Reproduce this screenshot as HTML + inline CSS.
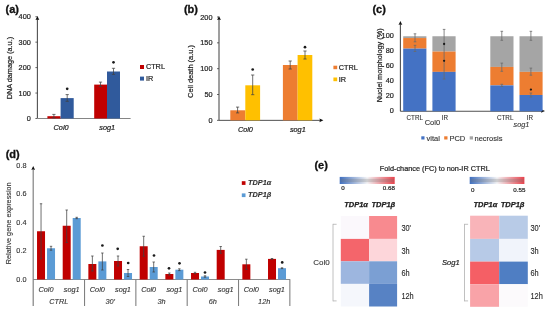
<!DOCTYPE html>
<html><head><meta charset="utf-8"><style>
html,body{margin:0;padding:0;background:#fff;}
svg{display:block;font-family:"Liberation Sans", sans-serif;filter:blur(0.35px);}
</style></head><body>
<svg width="550" height="312" viewBox="0 0 550 312">
<rect width="550" height="312" fill="#fff"/>
<text x="5.5" y="12.6" font-size="11" text-anchor="start" font-weight="bold" font-style="normal" fill="#111" stroke="#111" stroke-width="0.3">(a)</text>
<line x1="37.4" y1="18.8" x2="37.4" y2="118.5" stroke="#505050" stroke-width="1.1"/>
<path d="M35.5 20.0 L37.4 16.0 L39.3 20.0 L37.4 19.4 Z" fill="#111"/>
<line x1="35.4" y1="118.5" x2="37.4" y2="118.5" stroke="#404040" stroke-width="0.8"/>
<text x="30.8" y="121.1" font-size="7.3" text-anchor="end" font-weight="normal" font-style="normal" fill="#262626" stroke="#262626" stroke-width="0.22">0</text>
<line x1="35.4" y1="93.05" x2="37.4" y2="93.05" stroke="#404040" stroke-width="0.8"/>
<text x="30.8" y="95.64999999999999" font-size="7.3" text-anchor="end" font-weight="normal" font-style="normal" fill="#262626" stroke="#262626" stroke-width="0.22">100</text>
<line x1="35.4" y1="67.6" x2="37.4" y2="67.6" stroke="#404040" stroke-width="0.8"/>
<text x="30.8" y="70.19999999999999" font-size="7.3" text-anchor="end" font-weight="normal" font-style="normal" fill="#262626" stroke="#262626" stroke-width="0.22">200</text>
<line x1="35.4" y1="42.150000000000006" x2="37.4" y2="42.150000000000006" stroke="#404040" stroke-width="0.8"/>
<text x="30.8" y="44.75000000000001" font-size="7.3" text-anchor="end" font-weight="normal" font-style="normal" fill="#262626" stroke="#262626" stroke-width="0.22">300</text>
<line x1="35.4" y1="16.700000000000003" x2="37.4" y2="16.700000000000003" stroke="#404040" stroke-width="0.8"/>
<text x="30.8" y="19.300000000000004" font-size="7.3" text-anchor="end" font-weight="normal" font-style="normal" fill="#262626" stroke="#262626" stroke-width="0.22">400</text>
<line x1="37.4" y1="118.5" x2="130.6" y2="118.5" stroke="#858585" stroke-width="1.0"/>
<rect x="47.4" y="116.2" width="13.2" height="2.3" fill="#c00000"/>
<rect x="60.6" y="98.1" width="13.1" height="20.4" fill="#305a9c"/>
<rect x="94.2" y="84.6" width="12.8" height="33.9" fill="#c00000"/>
<rect x="107" y="71.5" width="13" height="47.0" fill="#305a9c"/>
<line x1="53.9" y1="114.4" x2="53.9" y2="117.8" stroke="#404040" stroke-width="0.75"/>
<line x1="52.3" y1="114.4" x2="55.5" y2="114.4" stroke="#404040" stroke-width="0.75"/>
<line x1="52.3" y1="117.8" x2="55.5" y2="117.8" stroke="#404040" stroke-width="0.75"/>
<line x1="67.2" y1="94.6" x2="67.2" y2="101.3" stroke="#404040" stroke-width="0.75"/>
<line x1="65.60000000000001" y1="94.6" x2="68.8" y2="94.6" stroke="#404040" stroke-width="0.75"/>
<line x1="65.60000000000001" y1="101.3" x2="68.8" y2="101.3" stroke="#404040" stroke-width="0.75"/>
<line x1="100.5" y1="82.1" x2="100.5" y2="86.5" stroke="#404040" stroke-width="0.75"/>
<line x1="98.9" y1="82.1" x2="102.1" y2="82.1" stroke="#404040" stroke-width="0.75"/>
<line x1="98.9" y1="86.5" x2="102.1" y2="86.5" stroke="#404040" stroke-width="0.75"/>
<line x1="113.5" y1="68.3" x2="113.5" y2="74.4" stroke="#404040" stroke-width="0.75"/>
<line x1="111.9" y1="68.3" x2="115.1" y2="68.3" stroke="#404040" stroke-width="0.75"/>
<line x1="111.9" y1="74.4" x2="115.1" y2="74.4" stroke="#404040" stroke-width="0.75"/>
<circle cx="67.2" cy="88.8" r="1.35" fill="#1a1a1a"/>
<circle cx="113.5" cy="62.3" r="1.35" fill="#1a1a1a"/>
<text x="61.1" y="130.2" font-size="7.3" text-anchor="middle" font-weight="normal" font-style="italic" fill="#262626" stroke="#262626" stroke-width="0.22">Col0</text>
<text x="107.2" y="130.2" font-size="7.3" text-anchor="middle" font-weight="normal" font-style="italic" fill="#262626" stroke="#262626" stroke-width="0.22">sog1</text>
<text x="12.2" y="68.1" font-size="7.3" text-anchor="middle" font-weight="normal" font-style="normal" fill="#262626" stroke="#262626" stroke-width="0.22" transform="rotate(-90 12.2 68.1)">DNA damage (a.u.)</text>
<rect x="140" y="65" width="4" height="4" fill="#c00000"/>
<text x="145.9" y="69.4" font-size="7.3" text-anchor="start" font-weight="normal" font-style="normal" fill="#262626" stroke="#262626" stroke-width="0.22">CTRL</text>
<rect x="140" y="76.6" width="4" height="4.0" fill="#305a9c"/>
<text x="145.9" y="81.0" font-size="7.3" text-anchor="start" font-weight="normal" font-style="normal" fill="#262626" stroke="#262626" stroke-width="0.22">IR</text>
<text x="183.9" y="12.7" font-size="11" text-anchor="start" font-weight="bold" font-style="normal" fill="#111" stroke="#111" stroke-width="0.3">(b)</text>
<line x1="219.0" y1="19" x2="219.0" y2="120.35" stroke="#505050" stroke-width="1.1"/>
<path d="M217.1 20.0 L219.0 16.0 L220.9 20.0 L219.0 19.4 Z" fill="#111"/>
<line x1="217.0" y1="120.35" x2="219.0" y2="120.35" stroke="#404040" stroke-width="0.8"/>
<text x="212.5" y="122.94999999999999" font-size="7.3" text-anchor="end" font-weight="normal" font-style="normal" fill="#262626" stroke="#262626" stroke-width="0.22">0</text>
<line x1="217.0" y1="94.5125" x2="219.0" y2="94.5125" stroke="#404040" stroke-width="0.8"/>
<text x="212.5" y="97.1125" font-size="7.3" text-anchor="end" font-weight="normal" font-style="normal" fill="#262626" stroke="#262626" stroke-width="0.22">50</text>
<line x1="217.0" y1="68.67500000000001" x2="219.0" y2="68.67500000000001" stroke="#404040" stroke-width="0.8"/>
<text x="212.5" y="71.275" font-size="7.3" text-anchor="end" font-weight="normal" font-style="normal" fill="#262626" stroke="#262626" stroke-width="0.22">100</text>
<line x1="217.0" y1="42.837500000000006" x2="219.0" y2="42.837500000000006" stroke="#404040" stroke-width="0.8"/>
<text x="212.5" y="45.43750000000001" font-size="7.3" text-anchor="end" font-weight="normal" font-style="normal" fill="#262626" stroke="#262626" stroke-width="0.22">150</text>
<line x1="217.0" y1="17.000000000000014" x2="219.0" y2="17.000000000000014" stroke="#404040" stroke-width="0.8"/>
<text x="212.5" y="19.600000000000016" font-size="7.3" text-anchor="end" font-weight="normal" font-style="normal" fill="#262626" stroke="#262626" stroke-width="0.22">200</text>
<line x1="219.0" y1="120.35" x2="321" y2="120.35" stroke="#505050" stroke-width="1.0"/>
<path d="M319.4 118.55 L323.4 120.35 L319.4 122.14999999999999 L320.0 120.35 Z" fill="#111"/>
<rect x="230.3" y="110.3" width="15.0" height="10.05" fill="#ed7d31"/>
<rect x="245.3" y="85.3" width="14.8" height="35.05" fill="#ffc000"/>
<rect x="282.9" y="65" width="14.7" height="55.35" fill="#ed7d31"/>
<rect x="297.6" y="55" width="14.7" height="65.35" fill="#ffc000"/>
<line x1="237.6" y1="107.1" x2="237.6" y2="112.9" stroke="#404040" stroke-width="0.75"/>
<line x1="236.0" y1="107.1" x2="239.2" y2="107.1" stroke="#404040" stroke-width="0.75"/>
<line x1="236.0" y1="112.9" x2="239.2" y2="112.9" stroke="#404040" stroke-width="0.75"/>
<line x1="252.7" y1="75" x2="252.7" y2="94.7" stroke="#404040" stroke-width="0.75"/>
<line x1="251.1" y1="75" x2="254.29999999999998" y2="75" stroke="#404040" stroke-width="0.75"/>
<line x1="251.1" y1="94.7" x2="254.29999999999998" y2="94.7" stroke="#404040" stroke-width="0.75"/>
<line x1="290.2" y1="61" x2="290.2" y2="69" stroke="#404040" stroke-width="0.75"/>
<line x1="288.59999999999997" y1="61" x2="291.8" y2="61" stroke="#404040" stroke-width="0.75"/>
<line x1="288.59999999999997" y1="69" x2="291.8" y2="69" stroke="#404040" stroke-width="0.75"/>
<line x1="305" y1="51" x2="305" y2="59" stroke="#404040" stroke-width="0.75"/>
<line x1="303.4" y1="51" x2="306.6" y2="51" stroke="#404040" stroke-width="0.75"/>
<line x1="303.4" y1="59" x2="306.6" y2="59" stroke="#404040" stroke-width="0.75"/>
<circle cx="252.7" cy="69.5" r="1.35" fill="#1a1a1a"/>
<circle cx="305" cy="47.2" r="1.35" fill="#1a1a1a"/>
<text x="245.4" y="132.0" font-size="7.3" text-anchor="middle" font-weight="normal" font-style="italic" fill="#262626" stroke="#262626" stroke-width="0.22">Col0</text>
<text x="297.8" y="132.0" font-size="7.3" text-anchor="middle" font-weight="normal" font-style="italic" fill="#262626" stroke="#262626" stroke-width="0.22">sog1</text>
<text x="192.6" y="71.5" font-size="7.45" text-anchor="middle" font-weight="normal" font-style="normal" fill="#262626" stroke="#262626" stroke-width="0.22" transform="rotate(-90 192.6 71.5)">Cell death (a.u.)</text>
<rect x="333.4" y="65.7" width="3.8" height="3.5" fill="#ed7d31"/>
<text x="338.8" y="69.6" font-size="7.3" text-anchor="start" font-weight="normal" font-style="normal" fill="#262626" stroke="#262626" stroke-width="0.22">CTRL</text>
<rect x="333.4" y="77.5" width="3.8" height="3.7" fill="#ffc000"/>
<text x="338.8" y="82.1" font-size="7.3" text-anchor="start" font-weight="normal" font-style="normal" fill="#262626" stroke="#262626" stroke-width="0.22">IR</text>
<text x="372.4" y="12.5" font-size="11" text-anchor="start" font-weight="bold" font-style="normal" fill="#111" stroke="#111" stroke-width="0.3">(c)</text>
<line x1="400.4" y1="24" x2="400.4" y2="111.25" stroke="#505050" stroke-width="1.1"/>
<path d="M398.5 24.9 L400.4 20.9 L402.29999999999995 24.9 L400.4 24.299999999999997 Z" fill="#111"/>
<text x="393.8" y="113.35" font-size="7.3" text-anchor="end" font-weight="normal" font-style="normal" fill="#262626" stroke="#262626" stroke-width="0.22">0</text>
<text x="393.8" y="98.35" font-size="7.3" text-anchor="end" font-weight="normal" font-style="normal" fill="#262626" stroke="#262626" stroke-width="0.22">20</text>
<text x="393.8" y="83.35" font-size="7.3" text-anchor="end" font-weight="normal" font-style="normal" fill="#262626" stroke="#262626" stroke-width="0.22">40</text>
<text x="393.8" y="68.35" font-size="7.3" text-anchor="end" font-weight="normal" font-style="normal" fill="#262626" stroke="#262626" stroke-width="0.22">60</text>
<text x="393.8" y="53.35" font-size="7.3" text-anchor="end" font-weight="normal" font-style="normal" fill="#262626" stroke="#262626" stroke-width="0.22">80</text>
<text x="393.8" y="38.35" font-size="7.3" text-anchor="end" font-weight="normal" font-style="normal" fill="#262626" stroke="#262626" stroke-width="0.22">100</text>
<line x1="400.4" y1="111.25" x2="543" y2="111.25" stroke="#505050" stroke-width="1.0"/>
<path d="M541.0 109.15 L545 110.95 L541.0 112.75 L541.6 110.95 Z" fill="#111"/>
<rect x="403.2" y="36.25" width="23.2" height="1.8" fill="#a5a5a5"/>
<rect x="403.2" y="38.05000000000001" width="23.2" height="10.57" fill="#ed7d31"/>
<rect x="403.2" y="48.625" width="23.2" height="62.62" fill="#4472c4"/>
<rect x="432.4" y="36.25" width="23.2" height="15.3" fill="#a5a5a5"/>
<rect x="432.4" y="51.550000000000004" width="23.2" height="20.32" fill="#ed7d31"/>
<rect x="432.4" y="71.875" width="23.2" height="39.38" fill="#4472c4"/>
<rect x="490.3" y="36.25" width="23.2" height="30.67" fill="#a5a5a5"/>
<rect x="490.3" y="66.925" width="23.2" height="18.45" fill="#ed7d31"/>
<rect x="490.3" y="85.375" width="23.2" height="25.88" fill="#4472c4"/>
<rect x="519.5" y="36.25" width="23.1" height="35.62" fill="#a5a5a5"/>
<rect x="519.5" y="71.875" width="23.1" height="23.1" fill="#ed7d31"/>
<rect x="519.5" y="94.975" width="23.1" height="16.28" fill="#4472c4"/>
<line x1="415" y1="33.8" x2="415" y2="41.8" stroke="#6a6a6a" stroke-width="0.8"/>
<line x1="413.7" y1="33.8" x2="416.3" y2="33.8" stroke="#6a6a6a" stroke-width="0.8"/>
<line x1="413.7" y1="41.8" x2="416.3" y2="41.8" stroke="#6a6a6a" stroke-width="0.8"/>
<line x1="415" y1="45.3" x2="415" y2="51.5" stroke="#6a6a6a" stroke-width="0.8"/>
<line x1="413.7" y1="45.3" x2="416.3" y2="45.3" stroke="#6a6a6a" stroke-width="0.8"/>
<line x1="413.7" y1="51.5" x2="416.3" y2="51.5" stroke="#6a6a6a" stroke-width="0.8"/>
<line x1="444.1" y1="29.4" x2="444.1" y2="79" stroke="#6a6a6a" stroke-width="0.8"/>
<line x1="442.8" y1="29.4" x2="445.40000000000003" y2="29.4" stroke="#6a6a6a" stroke-width="0.8"/>
<line x1="442.8" y1="79" x2="445.40000000000003" y2="79" stroke="#6a6a6a" stroke-width="0.8"/>
<circle cx="444.1" cy="44" r="1.15" fill="#1a1a1a"/>
<circle cx="444.1" cy="60.8" r="1.15" fill="#1a1a1a"/>
<line x1="501.8" y1="31.3" x2="501.8" y2="40.3" stroke="#6a6a6a" stroke-width="0.8"/>
<line x1="500.5" y1="31.3" x2="503.1" y2="31.3" stroke="#6a6a6a" stroke-width="0.8"/>
<line x1="500.5" y1="40.3" x2="503.1" y2="40.3" stroke="#6a6a6a" stroke-width="0.8"/>
<line x1="501.8" y1="63.1" x2="501.8" y2="71.3" stroke="#6a6a6a" stroke-width="0.8"/>
<line x1="500.5" y1="63.1" x2="503.1" y2="63.1" stroke="#6a6a6a" stroke-width="0.8"/>
<line x1="500.5" y1="71.3" x2="503.1" y2="71.3" stroke="#6a6a6a" stroke-width="0.8"/>
<line x1="501.8" y1="84.3" x2="501.8" y2="86.5" stroke="#6a6a6a" stroke-width="0.8"/>
<line x1="500.5" y1="84.3" x2="503.1" y2="84.3" stroke="#6a6a6a" stroke-width="0.8"/>
<line x1="500.5" y1="86.5" x2="503.1" y2="86.5" stroke="#6a6a6a" stroke-width="0.8"/>
<line x1="530.9" y1="31.3" x2="530.9" y2="40.3" stroke="#6a6a6a" stroke-width="0.8"/>
<line x1="529.6" y1="31.3" x2="532.1999999999999" y2="31.3" stroke="#6a6a6a" stroke-width="0.8"/>
<line x1="529.6" y1="40.3" x2="532.1999999999999" y2="40.3" stroke="#6a6a6a" stroke-width="0.8"/>
<line x1="530.9" y1="68.1" x2="530.9" y2="75.2" stroke="#6a6a6a" stroke-width="0.8"/>
<line x1="529.6" y1="68.1" x2="532.1999999999999" y2="68.1" stroke="#6a6a6a" stroke-width="0.8"/>
<line x1="529.6" y1="75.2" x2="532.1999999999999" y2="75.2" stroke="#6a6a6a" stroke-width="0.8"/>
<line x1="530.9" y1="93" x2="530.9" y2="97" stroke="#6a6a6a" stroke-width="0.8"/>
<line x1="529.6" y1="93" x2="532.1999999999999" y2="93" stroke="#6a6a6a" stroke-width="0.8"/>
<line x1="529.6" y1="97" x2="532.1999999999999" y2="97" stroke="#6a6a6a" stroke-width="0.8"/>
<circle cx="530.9" cy="89.6" r="1.15" fill="#1a1a1a"/>
<text x="414.8" y="120.1" font-size="6.3" text-anchor="middle" font-weight="normal" font-style="normal" fill="#333" stroke="#333" stroke-width="0.1">CTRL</text>
<text x="445.0" y="120.1" font-size="6.3" text-anchor="middle" font-weight="normal" font-style="normal" fill="#333" stroke="#333" stroke-width="0.1">IR</text>
<text x="432.4" y="125.4" font-size="7.5" text-anchor="middle" font-weight="normal" font-style="normal" fill="#333" stroke="#333" stroke-width="0.1">Col0</text>
<text x="505.2" y="120.1" font-size="6.3" text-anchor="middle" font-weight="normal" font-style="normal" fill="#333" stroke="#333" stroke-width="0.1">CTRL</text>
<text x="529.8" y="120.1" font-size="6.3" text-anchor="middle" font-weight="normal" font-style="normal" fill="#333" stroke="#333" stroke-width="0.1">IR</text>
<text x="521.4" y="127.3" font-size="7.3" text-anchor="middle" font-weight="normal" font-style="italic" fill="#333" stroke="#333" stroke-width="0.1">sog1</text>
<text x="382.4" y="65.3" font-size="7.3" text-anchor="middle" font-weight="normal" font-style="normal" fill="#262626" stroke="#262626" stroke-width="0.22" transform="rotate(-90 382.4 65.3)">Nuclei morphology (%)</text>
<rect x="421.3" y="136.3" width="3.2" height="3.2" fill="#4472c4"/>
<text x="426.5" y="140.5" font-size="7.5" text-anchor="start" font-weight="normal" font-style="normal" fill="#333" stroke="#333" stroke-width="0.12">vital</text>
<rect x="444.2" y="136.3" width="3.3" height="3.2" fill="#ed7d31"/>
<text x="449.4" y="140.5" font-size="7.5" text-anchor="start" font-weight="normal" font-style="normal" fill="#333" stroke="#333" stroke-width="0.12">PCD</text>
<rect x="469.7" y="136.3" width="3.3" height="3.2" fill="#a5a5a5"/>
<text x="474.5" y="140.5" font-size="7.5" text-anchor="start" font-weight="normal" font-style="normal" fill="#333" stroke="#333" stroke-width="0.12">necrosis</text>
<text x="5.7" y="158.3" font-size="11" text-anchor="start" font-weight="bold" font-style="normal" fill="#111" stroke="#111" stroke-width="0.3">(d)</text>
<line x1="33.2" y1="168.5" x2="33.2" y2="306" stroke="#808080" stroke-width="1.2"/>
<path d="M31.300000000000004 169.9 L33.2 165.9 L35.1 169.9 L33.2 169.3 Z" fill="#111"/>
<text x="26.5" y="281.70000000000005" font-size="7.3" text-anchor="end" font-weight="normal" font-style="normal" fill="#333" stroke="#333" stroke-width="0.12">0.0</text>
<text x="26.5" y="253.14999999999998" font-size="7.3" text-anchor="end" font-weight="normal" font-style="normal" fill="#333" stroke="#333" stroke-width="0.12">0.2</text>
<text x="26.5" y="224.6" font-size="7.3" text-anchor="end" font-weight="normal" font-style="normal" fill="#333" stroke="#333" stroke-width="0.12">0.4</text>
<text x="26.5" y="196.05" font-size="7.3" text-anchor="end" font-weight="normal" font-style="normal" fill="#333" stroke="#333" stroke-width="0.12">0.6</text>
<text x="26.5" y="167.5" font-size="7.3" text-anchor="end" font-weight="normal" font-style="normal" fill="#333" stroke="#333" stroke-width="0.12">0.8</text>
<line x1="33.2" y1="279.5" x2="290.2" y2="279.5" stroke="#7f7f7f" stroke-width="0.9"/>
<line x1="84.53" y1="279.5" x2="84.53" y2="306" stroke="#808080" stroke-width="1.1"/>
<line x1="135.86" y1="279.5" x2="135.86" y2="306" stroke="#808080" stroke-width="1.1"/>
<line x1="187.19" y1="279.5" x2="187.19" y2="306" stroke="#808080" stroke-width="1.1"/>
<line x1="238.51999999999998" y1="279.5" x2="238.51999999999998" y2="306" stroke="#808080" stroke-width="1.1"/>
<line x1="289.84999999999997" y1="279.5" x2="289.84999999999997" y2="306" stroke="#808080" stroke-width="1.1"/>
<rect x="37.0325" y="231.25" width="8.0" height="48.25" fill="#c00000"/>
<line x1="41.0325" y1="203.75" x2="41.0325" y2="258.75" stroke="#404040" stroke-width="0.75"/>
<line x1="39.832499999999996" y1="203.75" x2="42.2325" y2="203.75" stroke="#404040" stroke-width="0.75"/>
<line x1="39.832499999999996" y1="258.75" x2="42.2325" y2="258.75" stroke="#404040" stroke-width="0.75"/>
<rect x="47.0325" y="248.25" width="8.0" height="31.25" fill="#5b9bd5"/>
<line x1="51.0325" y1="246.3" x2="51.0325" y2="250.2" stroke="#404040" stroke-width="0.75"/>
<line x1="49.832499999999996" y1="246.3" x2="52.2325" y2="246.3" stroke="#404040" stroke-width="0.75"/>
<line x1="49.832499999999996" y1="250.2" x2="52.2325" y2="250.2" stroke="#404040" stroke-width="0.75"/>
<text x="46.0325" y="291.8" font-size="7.3" text-anchor="middle" font-weight="normal" font-style="italic" fill="#333" stroke="#333" stroke-width="0.12">Col0</text>
<rect x="62.697500000000005" y="225.75" width="8.0" height="53.75" fill="#c00000"/>
<line x1="66.6975" y1="210" x2="66.6975" y2="242.5" stroke="#404040" stroke-width="0.75"/>
<line x1="65.4975" y1="210" x2="67.89750000000001" y2="210" stroke="#404040" stroke-width="0.75"/>
<line x1="65.4975" y1="242.5" x2="67.89750000000001" y2="242.5" stroke="#404040" stroke-width="0.75"/>
<rect x="72.6975" y="218.0" width="8.0" height="61.5" fill="#5b9bd5"/>
<line x1="76.6975" y1="217.3" x2="76.6975" y2="218.7" stroke="#404040" stroke-width="0.75"/>
<line x1="75.4975" y1="217.3" x2="77.89750000000001" y2="217.3" stroke="#404040" stroke-width="0.75"/>
<line x1="75.4975" y1="218.7" x2="77.89750000000001" y2="218.7" stroke="#404040" stroke-width="0.75"/>
<text x="71.6975" y="291.8" font-size="7.3" text-anchor="middle" font-weight="normal" font-style="italic" fill="#333" stroke="#333" stroke-width="0.12">sog1</text>
<rect x="88.3625" y="264.0" width="8.0" height="15.5" fill="#c00000"/>
<line x1="92.3625" y1="256" x2="92.3625" y2="271" stroke="#404040" stroke-width="0.75"/>
<line x1="91.1625" y1="256" x2="93.5625" y2="256" stroke="#404040" stroke-width="0.75"/>
<line x1="91.1625" y1="271" x2="93.5625" y2="271" stroke="#404040" stroke-width="0.75"/>
<rect x="98.3625" y="261.4" width="8.0" height="18.1" fill="#5b9bd5"/>
<line x1="102.3625" y1="253" x2="102.3625" y2="270" stroke="#404040" stroke-width="0.75"/>
<line x1="101.1625" y1="253" x2="103.5625" y2="253" stroke="#404040" stroke-width="0.75"/>
<line x1="101.1625" y1="270" x2="103.5625" y2="270" stroke="#404040" stroke-width="0.75"/>
<text x="97.3625" y="291.8" font-size="7.3" text-anchor="middle" font-weight="normal" font-style="italic" fill="#333" stroke="#333" stroke-width="0.12">Col0</text>
<rect x="114.0275" y="261.0" width="8.0" height="18.5" fill="#c00000"/>
<line x1="118.0275" y1="256" x2="118.0275" y2="266" stroke="#404040" stroke-width="0.75"/>
<line x1="116.8275" y1="256" x2="119.2275" y2="256" stroke="#404040" stroke-width="0.75"/>
<line x1="116.8275" y1="266" x2="119.2275" y2="266" stroke="#404040" stroke-width="0.75"/>
<rect x="124.0275" y="273.0" width="8.0" height="6.5" fill="#5b9bd5"/>
<line x1="128.0275" y1="269.5" x2="128.0275" y2="276.5" stroke="#404040" stroke-width="0.75"/>
<line x1="126.8275" y1="269.5" x2="129.2275" y2="269.5" stroke="#404040" stroke-width="0.75"/>
<line x1="126.8275" y1="276.5" x2="129.2275" y2="276.5" stroke="#404040" stroke-width="0.75"/>
<text x="123.0275" y="291.8" font-size="7.3" text-anchor="middle" font-weight="normal" font-style="italic" fill="#333" stroke="#333" stroke-width="0.12">sog1</text>
<rect x="139.69250000000002" y="246.25" width="8.0" height="33.25" fill="#c00000"/>
<line x1="143.69250000000002" y1="236.25" x2="143.69250000000002" y2="256.2" stroke="#404040" stroke-width="0.75"/>
<line x1="142.49250000000004" y1="236.25" x2="144.8925" y2="236.25" stroke="#404040" stroke-width="0.75"/>
<line x1="142.49250000000004" y1="256.2" x2="144.8925" y2="256.2" stroke="#404040" stroke-width="0.75"/>
<rect x="149.69250000000002" y="267.0" width="8.0" height="12.5" fill="#5b9bd5"/>
<line x1="153.69250000000002" y1="262" x2="153.69250000000002" y2="272" stroke="#404040" stroke-width="0.75"/>
<line x1="152.49250000000004" y1="262" x2="154.8925" y2="262" stroke="#404040" stroke-width="0.75"/>
<line x1="152.49250000000004" y1="272" x2="154.8925" y2="272" stroke="#404040" stroke-width="0.75"/>
<text x="148.69250000000002" y="291.8" font-size="7.3" text-anchor="middle" font-weight="normal" font-style="italic" fill="#333" stroke="#333" stroke-width="0.12">Col0</text>
<rect x="165.3575" y="274.0" width="8.0" height="5.5" fill="#c00000"/>
<line x1="169.3575" y1="273" x2="169.3575" y2="275" stroke="#404040" stroke-width="0.75"/>
<line x1="168.1575" y1="273" x2="170.55749999999998" y2="273" stroke="#404040" stroke-width="0.75"/>
<line x1="168.1575" y1="275" x2="170.55749999999998" y2="275" stroke="#404040" stroke-width="0.75"/>
<rect x="175.3575" y="269.7" width="8.0" height="9.8" fill="#5b9bd5"/>
<line x1="179.3575" y1="268.8" x2="179.3575" y2="270.6" stroke="#404040" stroke-width="0.75"/>
<line x1="178.1575" y1="268.8" x2="180.55749999999998" y2="268.8" stroke="#404040" stroke-width="0.75"/>
<line x1="178.1575" y1="270.6" x2="180.55749999999998" y2="270.6" stroke="#404040" stroke-width="0.75"/>
<text x="174.3575" y="291.8" font-size="7.3" text-anchor="middle" font-weight="normal" font-style="italic" fill="#333" stroke="#333" stroke-width="0.12">sog1</text>
<rect x="191.0225" y="273.0" width="8.0" height="6.5" fill="#c00000"/>
<line x1="195.0225" y1="272.3" x2="195.0225" y2="273.7" stroke="#404040" stroke-width="0.75"/>
<line x1="193.82250000000002" y1="272.3" x2="196.2225" y2="272.3" stroke="#404040" stroke-width="0.75"/>
<line x1="193.82250000000002" y1="273.7" x2="196.2225" y2="273.7" stroke="#404040" stroke-width="0.75"/>
<rect x="201.0225" y="276.5" width="8.0" height="3.0" fill="#5b9bd5"/>
<line x1="205.0225" y1="275.8" x2="205.0225" y2="277.2" stroke="#404040" stroke-width="0.75"/>
<line x1="203.82250000000002" y1="275.8" x2="206.2225" y2="275.8" stroke="#404040" stroke-width="0.75"/>
<line x1="203.82250000000002" y1="277.2" x2="206.2225" y2="277.2" stroke="#404040" stroke-width="0.75"/>
<text x="200.0225" y="291.8" font-size="7.3" text-anchor="middle" font-weight="normal" font-style="italic" fill="#333" stroke="#333" stroke-width="0.12">Col0</text>
<rect x="216.68750000000003" y="249.9" width="8.0" height="29.6" fill="#c00000"/>
<line x1="220.68750000000003" y1="246.5" x2="220.68750000000003" y2="253.3" stroke="#404040" stroke-width="0.75"/>
<line x1="219.48750000000004" y1="246.5" x2="221.88750000000002" y2="246.5" stroke="#404040" stroke-width="0.75"/>
<line x1="219.48750000000004" y1="253.3" x2="221.88750000000002" y2="253.3" stroke="#404040" stroke-width="0.75"/>
<text x="225.68750000000003" y="291.8" font-size="7.3" text-anchor="middle" font-weight="normal" font-style="italic" fill="#333" stroke="#333" stroke-width="0.12">sog1</text>
<rect x="242.3525" y="264.3" width="8.0" height="15.2" fill="#c00000"/>
<line x1="246.3525" y1="259.2" x2="246.3525" y2="269.4" stroke="#404040" stroke-width="0.75"/>
<line x1="245.1525" y1="259.2" x2="247.55249999999998" y2="259.2" stroke="#404040" stroke-width="0.75"/>
<line x1="245.1525" y1="269.4" x2="247.55249999999998" y2="269.4" stroke="#404040" stroke-width="0.75"/>
<text x="251.3525" y="291.8" font-size="7.3" text-anchor="middle" font-weight="normal" font-style="italic" fill="#333" stroke="#333" stroke-width="0.12">Col0</text>
<rect x="268.0175" y="258.9" width="8.0" height="20.6" fill="#c00000"/>
<line x1="272.0175" y1="258.5" x2="272.0175" y2="259.3" stroke="#404040" stroke-width="0.75"/>
<line x1="270.8175" y1="258.5" x2="273.2175" y2="258.5" stroke="#404040" stroke-width="0.75"/>
<line x1="270.8175" y1="259.3" x2="273.2175" y2="259.3" stroke="#404040" stroke-width="0.75"/>
<rect x="278.0175" y="268.2" width="8.0" height="11.3" fill="#5b9bd5"/>
<line x1="282.0175" y1="267.8" x2="282.0175" y2="268.6" stroke="#404040" stroke-width="0.75"/>
<line x1="280.8175" y1="267.8" x2="283.2175" y2="267.8" stroke="#404040" stroke-width="0.75"/>
<line x1="280.8175" y1="268.6" x2="283.2175" y2="268.6" stroke="#404040" stroke-width="0.75"/>
<text x="277.0175" y="291.8" font-size="7.3" text-anchor="middle" font-weight="normal" font-style="italic" fill="#333" stroke="#333" stroke-width="0.12">sog1</text>
<text x="58.865" y="304.2" font-size="7.3" text-anchor="middle" font-weight="normal" font-style="italic" fill="#333" stroke="#333" stroke-width="0.12">CTRL</text>
<text x="110.195" y="304.2" font-size="7.3" text-anchor="middle" font-weight="normal" font-style="italic" fill="#333" stroke="#333" stroke-width="0.12">30'</text>
<text x="161.525" y="304.2" font-size="7.3" text-anchor="middle" font-weight="normal" font-style="italic" fill="#333" stroke="#333" stroke-width="0.12">3h</text>
<text x="212.855" y="304.2" font-size="7.3" text-anchor="middle" font-weight="normal" font-style="italic" fill="#333" stroke="#333" stroke-width="0.12">6h</text>
<text x="264.185" y="304.2" font-size="7.3" text-anchor="middle" font-weight="normal" font-style="italic" fill="#333" stroke="#333" stroke-width="0.12">12h</text>
<circle cx="102.4" cy="245.5" r="1.35" fill="#1a1a1a"/>
<circle cx="117.7" cy="248.8" r="1.35" fill="#1a1a1a"/>
<circle cx="128.2" cy="263" r="1.35" fill="#1a1a1a"/>
<circle cx="154" cy="255.5" r="1.35" fill="#1a1a1a"/>
<circle cx="169" cy="268.3" r="1.35" fill="#1a1a1a"/>
<circle cx="179.5" cy="263.3" r="1.35" fill="#1a1a1a"/>
<circle cx="205" cy="272.5" r="1.35" fill="#1a1a1a"/>
<circle cx="282.2" cy="262.4" r="1.35" fill="#1a1a1a"/>
<text x="11.0" y="223.3" font-size="7.3" text-anchor="middle" font-weight="normal" font-style="normal" fill="#333" stroke="#333" stroke-width="0.12" transform="rotate(-90 11.0 223.3)">Relative gene expression</text>
<rect x="241.8" y="181.2" width="3.7" height="3.7" fill="#c00000"/>
<text x="248.1" y="185.2" font-size="7.3" text-anchor="start" font-weight="bold" font-style="italic" fill="#333" stroke="#333" stroke-width="0.12">TDP1α</text>
<rect x="241.8" y="193.4" width="3.7" height="3.7" fill="#5b9bd5"/>
<text x="248.1" y="197.4" font-size="7.3" text-anchor="start" font-weight="bold" font-style="italic" fill="#333" stroke="#333" stroke-width="0.12">TDP1β</text>
<text x="314.4" y="169.4" font-size="11" text-anchor="start" font-weight="bold" font-style="normal" fill="#111" stroke="#111" stroke-width="0.3">(e)</text>
<text x="434.8" y="170.9" font-size="7.3" text-anchor="middle" font-weight="normal" font-style="normal" fill="#262626" stroke="#262626" stroke-width="0.22">Fold-chance (FC) to non-IR CTRL</text>
<defs><linearGradient id="cg" x1="0" x2="1" y1="0" y2="0"><stop offset="0" stop-color="#3f6fbf"/><stop offset="0.5" stop-color="#f4f4f6"/><stop offset="1" stop-color="#e8424c"/></linearGradient></defs>
<rect x="339.7" y="176.9" width="55.0" height="7.1" fill="url(#cg)"/>
<rect x="340.5" y="178.8" width="53.4" height="3.4" fill="#707070" opacity="0.28"/>
<rect x="469.7" y="176.9" width="54.69999999999999" height="7.1" fill="url(#cg)"/>
<rect x="470.5" y="178.8" width="53.09999999999999" height="3.4" fill="#707070" opacity="0.28"/>
<text x="341.2" y="189.6" font-size="6.2" text-anchor="start" font-weight="normal" font-style="normal" fill="#262626" stroke="#262626" stroke-width="0.22">0</text>
<text x="394.9" y="189.6" font-size="6.2" text-anchor="end" font-weight="normal" font-style="normal" fill="#262626" stroke="#262626" stroke-width="0.22">0.68</text>
<text x="471.0" y="192.0" font-size="6.2" text-anchor="start" font-weight="normal" font-style="normal" fill="#262626" stroke="#262626" stroke-width="0.22">0</text>
<text x="525.4" y="192.0" font-size="6.2" text-anchor="end" font-weight="normal" font-style="normal" fill="#262626" stroke="#262626" stroke-width="0.22">0.55</text>
<rect x="340.8" y="216" width="28.3" height="22.9" fill="#fbf8fc"/>
<rect x="369.1" y="216" width="28.0" height="22.9" fill="#f88a8f"/>
<rect x="340.8" y="238.9" width="28.3" height="22.4" fill="#f4656b"/>
<rect x="369.1" y="238.9" width="28.0" height="22.4" fill="#fdd6da"/>
<rect x="340.8" y="261.3" width="28.3" height="22.6" fill="#9db6df"/>
<rect x="369.1" y="261.3" width="28.0" height="22.6" fill="#7b9fd3"/>
<rect x="340.8" y="283.9" width="28.3" height="22.6" fill="#f5f7fc"/>
<rect x="369.1" y="283.9" width="28.0" height="22.6" fill="#5782c4"/>
<rect x="470.1" y="215.7" width="29.1" height="23.2" fill="#f9b4b9"/>
<rect x="499.2" y="215.7" width="28.6" height="23.2" fill="#b8cbe7"/>
<rect x="470.1" y="238.9" width="29.1" height="22.7" fill="#b7cae7"/>
<rect x="499.2" y="238.9" width="28.6" height="22.7" fill="#f1f4fb"/>
<rect x="470.1" y="261.6" width="29.1" height="22.6" fill="#f55f65"/>
<rect x="499.2" y="261.6" width="28.6" height="22.6" fill="#4f7ec3"/>
<rect x="470.1" y="284.2" width="29.1" height="22.6" fill="#f9a3a8"/>
<rect x="499.2" y="284.2" width="28.6" height="22.6" fill="#fcfafc"/>
<text x="344.2" y="207.4" font-size="7.5" text-anchor="start" font-weight="bold" font-style="italic" fill="#202020" stroke="#202020" stroke-width="0.25">TDP1α</text>
<text x="371.4" y="207.4" font-size="7.5" text-anchor="start" font-weight="bold" font-style="italic" fill="#202020" stroke="#202020" stroke-width="0.25">TDP1β</text>
<text x="473.5" y="207.4" font-size="7.5" text-anchor="start" font-weight="bold" font-style="italic" fill="#202020" stroke="#202020" stroke-width="0.25">TDP1α</text>
<text x="500.7" y="207.4" font-size="7.5" text-anchor="start" font-weight="bold" font-style="italic" fill="#202020" stroke="#202020" stroke-width="0.25">TDP1β</text>
<text x="401.4" y="231.2" font-size="8.4" text-anchor="start" font-weight="normal" font-style="normal" fill="#2a2a2a" stroke="#2a2a2a" stroke-width="0.12" transform="translate(401.4 231.2) scale(0.88 1) translate(-401.4 -231.2)">30'</text>
<text x="401.4" y="253.6" font-size="8.4" text-anchor="start" font-weight="normal" font-style="normal" fill="#2a2a2a" stroke="#2a2a2a" stroke-width="0.12" transform="translate(401.4 253.6) scale(0.88 1) translate(-401.4 -253.6)">3h</text>
<text x="401.4" y="276.3" font-size="8.4" text-anchor="start" font-weight="normal" font-style="normal" fill="#2a2a2a" stroke="#2a2a2a" stroke-width="0.12" transform="translate(401.4 276.3) scale(0.88 1) translate(-401.4 -276.3)">6h</text>
<text x="401.4" y="298.8" font-size="8.4" text-anchor="start" font-weight="normal" font-style="normal" fill="#2a2a2a" stroke="#2a2a2a" stroke-width="0.12" transform="translate(401.4 298.8) scale(0.88 1) translate(-401.4 -298.8)">12h</text>
<text x="530.5" y="231.2" font-size="8.4" text-anchor="start" font-weight="normal" font-style="normal" fill="#2a2a2a" stroke="#2a2a2a" stroke-width="0.12" transform="translate(530.5 231.2) scale(0.88 1) translate(-530.5 -231.2)">30'</text>
<text x="530.5" y="253.6" font-size="8.4" text-anchor="start" font-weight="normal" font-style="normal" fill="#2a2a2a" stroke="#2a2a2a" stroke-width="0.12" transform="translate(530.5 253.6) scale(0.88 1) translate(-530.5 -253.6)">3h</text>
<text x="530.5" y="276.3" font-size="8.4" text-anchor="start" font-weight="normal" font-style="normal" fill="#2a2a2a" stroke="#2a2a2a" stroke-width="0.12" transform="translate(530.5 276.3) scale(0.88 1) translate(-530.5 -276.3)">6h</text>
<text x="530.5" y="298.8" font-size="8.4" text-anchor="start" font-weight="normal" font-style="normal" fill="#2a2a2a" stroke="#2a2a2a" stroke-width="0.12" transform="translate(530.5 298.8) scale(0.88 1) translate(-530.5 -298.8)">12h</text>
<line x1="333.0" y1="223.9" x2="333.0" y2="301.3" stroke="#b0b0b0" stroke-width="0.8"/>
<line x1="333.0" y1="224.3" x2="336.6" y2="224.3" stroke="#b0b0b0" stroke-width="0.8"/>
<line x1="333.0" y1="300.9" x2="336.6" y2="300.9" stroke="#b0b0b0" stroke-width="0.8"/>
<line x1="464.5" y1="223.9" x2="464.5" y2="301.3" stroke="#b0b0b0" stroke-width="0.8"/>
<line x1="464.5" y1="224.3" x2="468.1" y2="224.3" stroke="#b0b0b0" stroke-width="0.8"/>
<line x1="464.5" y1="300.9" x2="468.1" y2="300.9" stroke="#b0b0b0" stroke-width="0.8"/>
<text x="313.3" y="264.9" font-size="8.0" text-anchor="start" font-weight="normal" font-style="normal" fill="#333" stroke="#333" stroke-width="0.1">Col0</text>
<text x="442.0" y="264.5" font-size="7.6" text-anchor="start" font-weight="normal" font-style="italic" fill="#262626" stroke="#262626" stroke-width="0.2">Sog1</text>
</svg>
</body></html>
